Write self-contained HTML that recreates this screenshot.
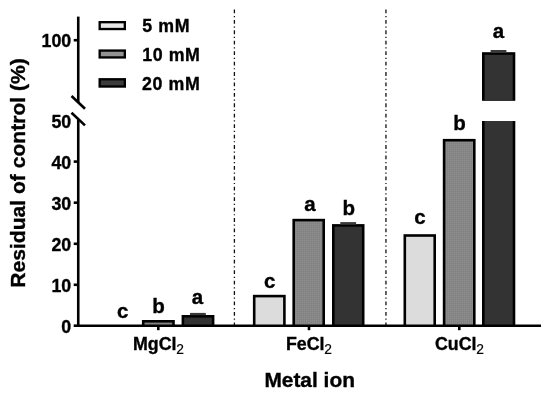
<!DOCTYPE html>
<html>
<head>
<meta charset="utf-8">
<title>Residual of control by metal ion</title>
<style>
html,body{margin:0;padding:0;background:#fff;}
body{width:550px;height:396px;overflow:hidden;}
svg{display:block;}
text{font-family:"Liberation Sans",Arial,Helvetica,sans-serif;font-weight:bold;fill:#000;stroke:#000;stroke-width:0.35px;}
.tick{font-size:17.8px;text-anchor:end;}
.lab{font-size:17.8px;}
.sub{font-size:13.8px;font-weight:normal;stroke-width:0.2px;}
.let{font-size:20.5px;text-anchor:middle;}
.leg{font-size:17.8px;letter-spacing:0.6px;}
.ttl{font-size:21.1px;}
</style>
</head>
<body>
<svg width="550" height="396" viewBox="0 0 550 396">
<defs>
<pattern id="midtex" width="2" height="2" patternUnits="userSpaceOnUse">
<rect width="2" height="2" fill="#878787"/>
<rect x="0" y="0" width="1" height="1" fill="#8e8e8e"/>
<rect x="1" y="1" width="1" height="1" fill="#808080"/>
</pattern>
</defs>
<rect x="0" y="0" width="550" height="396" fill="#ffffff"/>

<!-- group separators -->
<g stroke="#111" stroke-width="1.3" stroke-dasharray="3.8 2.7 1.2 2.73" fill="none">
<line x1="234.4" y1="9.5" x2="234.4" y2="325"/>
<line x1="385.95" y1="9.5" x2="385.95" y2="325"/>
</g>

<!-- bars -->
<g>
<rect x="141.90" y="320.00" width="32.90" height="7.00" fill="#000"/><rect x="144.50" y="322.60" width="27.70" height="4.40" fill="url(#midtex)"/>
<rect x="181.60" y="315.00" width="32.80" height="12.00" fill="#000"/><rect x="184.20" y="317.60" width="27.60" height="9.40" fill="#333333"/>
<rect x="252.90" y="294.80" width="32.80" height="32.20" fill="#000"/><rect x="255.50" y="297.40" width="27.60" height="29.60" fill="#dcdcdc"/>
<rect x="292.40" y="218.80" width="32.60" height="108.20" fill="#000"/><rect x="295.00" y="221.40" width="27.40" height="105.60" fill="url(#midtex)"/>
<rect x="332.00" y="224.10" width="32.50" height="102.90" fill="#000"/><rect x="334.60" y="226.70" width="27.30" height="100.30" fill="#333333"/>
<rect x="403.50" y="234.20" width="32.50" height="92.80" fill="#000"/><rect x="406.10" y="236.80" width="27.30" height="90.20" fill="#dcdcdc"/>
<rect x="442.80" y="138.90" width="32.80" height="188.10" fill="#000"/><rect x="445.40" y="141.50" width="27.60" height="185.50" fill="url(#midtex)"/>
<rect x="482.0" y="52.2" width="33.30" height="48.6" fill="#000"/><rect x="484.6" y="54.800000000000004" width="28.10" height="46.0" fill="#333333"/>
<rect x="482.0" y="121.0" width="33.30" height="204.70" fill="#000"/><rect x="484.6" y="121.0" width="28.10" height="204.70" fill="#333333"/>
</g>

<!-- error caps -->
<g fill="#3a3a3a">
<rect x="190" y="312.9" width="15.8" height="2.3"/>
<rect x="340.3" y="222.1" width="15.8" height="2.5"/>
<rect x="490.6" y="50" width="15.8" height="2.6"/>
</g>

<!-- axes -->
<g stroke="#000" stroke-width="2.6" fill="none" stroke-linecap="butt">
<line x1="78.25" y1="16.6" x2="78.25" y2="102"/>
<line x1="78.25" y1="119.5" x2="78.25" y2="327.0"/>
<line x1="71.5" y1="96" x2="85" y2="108.7"/>
<line x1="71.5" y1="112.7" x2="85" y2="125.4"/>
<line x1="76.95" y1="325.7" x2="541" y2="325.7"/>
<line x1="73.7" y1="40.2" x2="78.25" y2="40.2"/><line x1="73.7" y1="161.6" x2="78.25" y2="161.6"/><line x1="73.7" y1="202.7" x2="78.25" y2="202.7"/><line x1="73.7" y1="243.8" x2="78.25" y2="243.8"/><line x1="73.7" y1="284.8" x2="78.25" y2="284.8"/><line x1="73.7" y1="325.7" x2="78.25" y2="325.7"/>
<line x1="158.3" y1="325.7" x2="158.3" y2="330.2"/>
<line x1="309" y1="325.7" x2="309" y2="330.2"/>
<line x1="459.3" y1="325.7" x2="459.3" y2="330.2"/>
</g>

<!-- y tick labels -->
<text class="tick" x="71.2" y="47.4">100</text>
<text class="tick" x="71.2" y="127.8">50</text>
<text class="tick" x="71.2" y="168.8">40</text>
<text class="tick" x="71.2" y="209.8">30</text>
<text class="tick" x="71.2" y="251.0">20</text>
<text class="tick" x="71.2" y="291.9">10</text>
<text class="tick" x="71.2" y="332.8">0</text>

<!-- x labels -->
<text class="lab" x="133" y="349.5">MgCl<tspan class="sub" dy="4.3" dx="-0.2">2</tspan></text>
<text class="lab" x="286" y="349.5">FeCl<tspan class="sub" dy="4.3" dx="-0.2">2</tspan></text>
<text class="lab" x="435" y="349.5">CuCl<tspan class="sub" dy="4.3" dx="-0.2">2</tspan></text>

<!-- significance letters -->
<text class="let" x="122.8" y="318">c</text>
<text class="let" x="158.5" y="312.5">b</text>
<text class="let" x="197.5" y="303.9">a</text>
<text class="let" x="269.7" y="288">c</text>
<text class="let" x="309.9" y="211.0">a</text>
<text class="let" x="348.8" y="214.8">b</text>
<text class="let" x="420" y="224.3">c</text>
<text class="let" x="459.4" y="129.8">b</text>
<text class="let" x="498.5" y="38.2">a</text>

<!-- legend -->
<rect x="98.5" y="21.0" width="27.50" height="9.20" fill="#000"/><rect x="100.85" y="23.35" width="22.80" height="4.50" fill="#e8e8e8"/>
<rect x="98.5" y="49.4" width="27.50" height="9.20" fill="#000"/><rect x="100.85" y="51.75" width="22.80" height="4.50" fill="#929292"/>
<rect x="98.5" y="78.1" width="27.50" height="9.60" fill="#000"/><rect x="100.85" y="80.44999999999999" width="22.80" height="4.90" fill="#3c3c3c"/>
<text class="leg" x="142.2" y="32.1">5 mM</text>
<text class="leg" x="142.2" y="60.9">10 mM</text>
<text class="leg" x="142.1" y="89.7">20 mM</text>

<!-- titles -->
<text class="ttl" style="font-size:20.9px" x="264.4" y="386.8">Metal ion</text>
<text class="ttl" transform="translate(24.8 287.8) rotate(-90)">Residual of control (%)</text>
</svg>
</body>
</html>
